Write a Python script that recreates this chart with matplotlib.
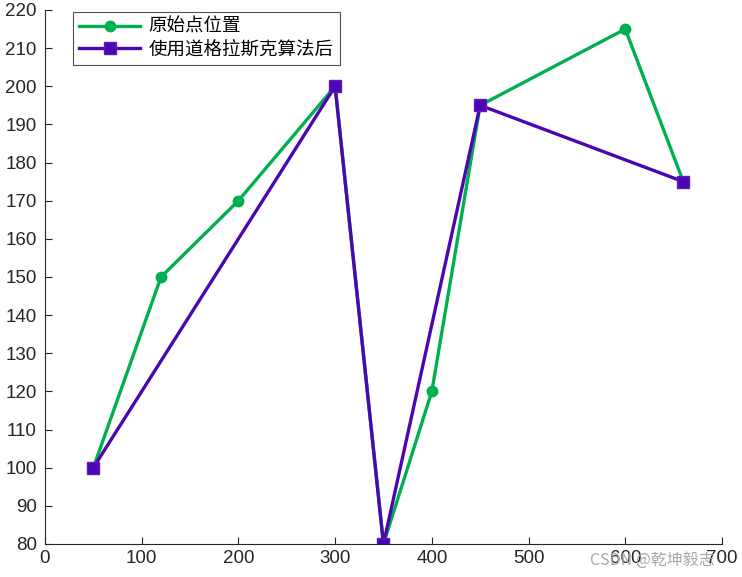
import matplotlib.pyplot as plt

# 原始点与道格拉斯算法后的点
x_orig = [50, 120, 200, 300, 350, 400, 450, 600, 660]
y_orig = [100, 150, 170, 200, 80, 120, 195, 215, 175]
x_dp = [50, 300, 350, 450, 660]
y_dp = [100, 200, 80, 195, 175]

x_ticks = [0, 100, 200, 300, 400, 500, 600, 700]
y_ticks = [80, 90, 100, 110, 120, 130, 140, 150, 160, 170, 180, 190, 200, 210, 220]

green = '#00B050'
purple = '#4B06B4'

plt.rcParams['font.family'] = ['Liberation Sans', 'Noto Sans CJK SC', 'DejaVu Sans']

fig = plt.figure(figsize=(7.42, 5.77), dpi=100)
ax = fig.add_axes([0.0606, 0.0572, 0.9124, 0.9255])

ax.plot(x_orig, y_orig, '-o', color=green, linewidth=2.4, markersize=7.5, label='原始点位置')
ax.plot(x_dp, y_dp, '-s', color=purple, linewidth=2.4, markersize=9,
        markerfacecolor=purple, markeredgecolor='#5A1EC0', label='使用道格拉斯克算法后')

ax.set_xlim(0, 700)
ax.set_ylim(80, 220)
ax.set_xticks(x_ticks)
ax.set_yticks(y_ticks)
ax.tick_params(direction='in', labelsize=13.5, length=5, colors='#262626')
ax.tick_params(axis='y', pad=6)
ax.tick_params(axis='x', pad=4)
ax.spines['top'].set_visible(False)
ax.spines['right'].set_visible(False)
for s in ['left', 'bottom']:
    ax.spines[s].set_color('#262626')

# 图例
leg = ax.legend(loc='upper left', bbox_to_anchor=(0.041, 0.997), fancybox=False,
                prop={'family': ['Noto Sans CJK SC'], 'size': 13.3},
                borderpad=0.35, handlelength=3.3, labelspacing=0.25, handletextpad=0.45,
                borderaxespad=0)
leg.get_frame().set_edgecolor('#262626')
leg.get_frame().set_linewidth(0.8)

# 水印
fig.text(0.795, 0.021, 'CSDN @乾坤毅志', color='#A8A8A8', fontsize=11.5,
         family=['Noto Sans CJK SC', 'DejaVu Sans'], zorder=10)

fig.savefig('out.png', dpi=100)
